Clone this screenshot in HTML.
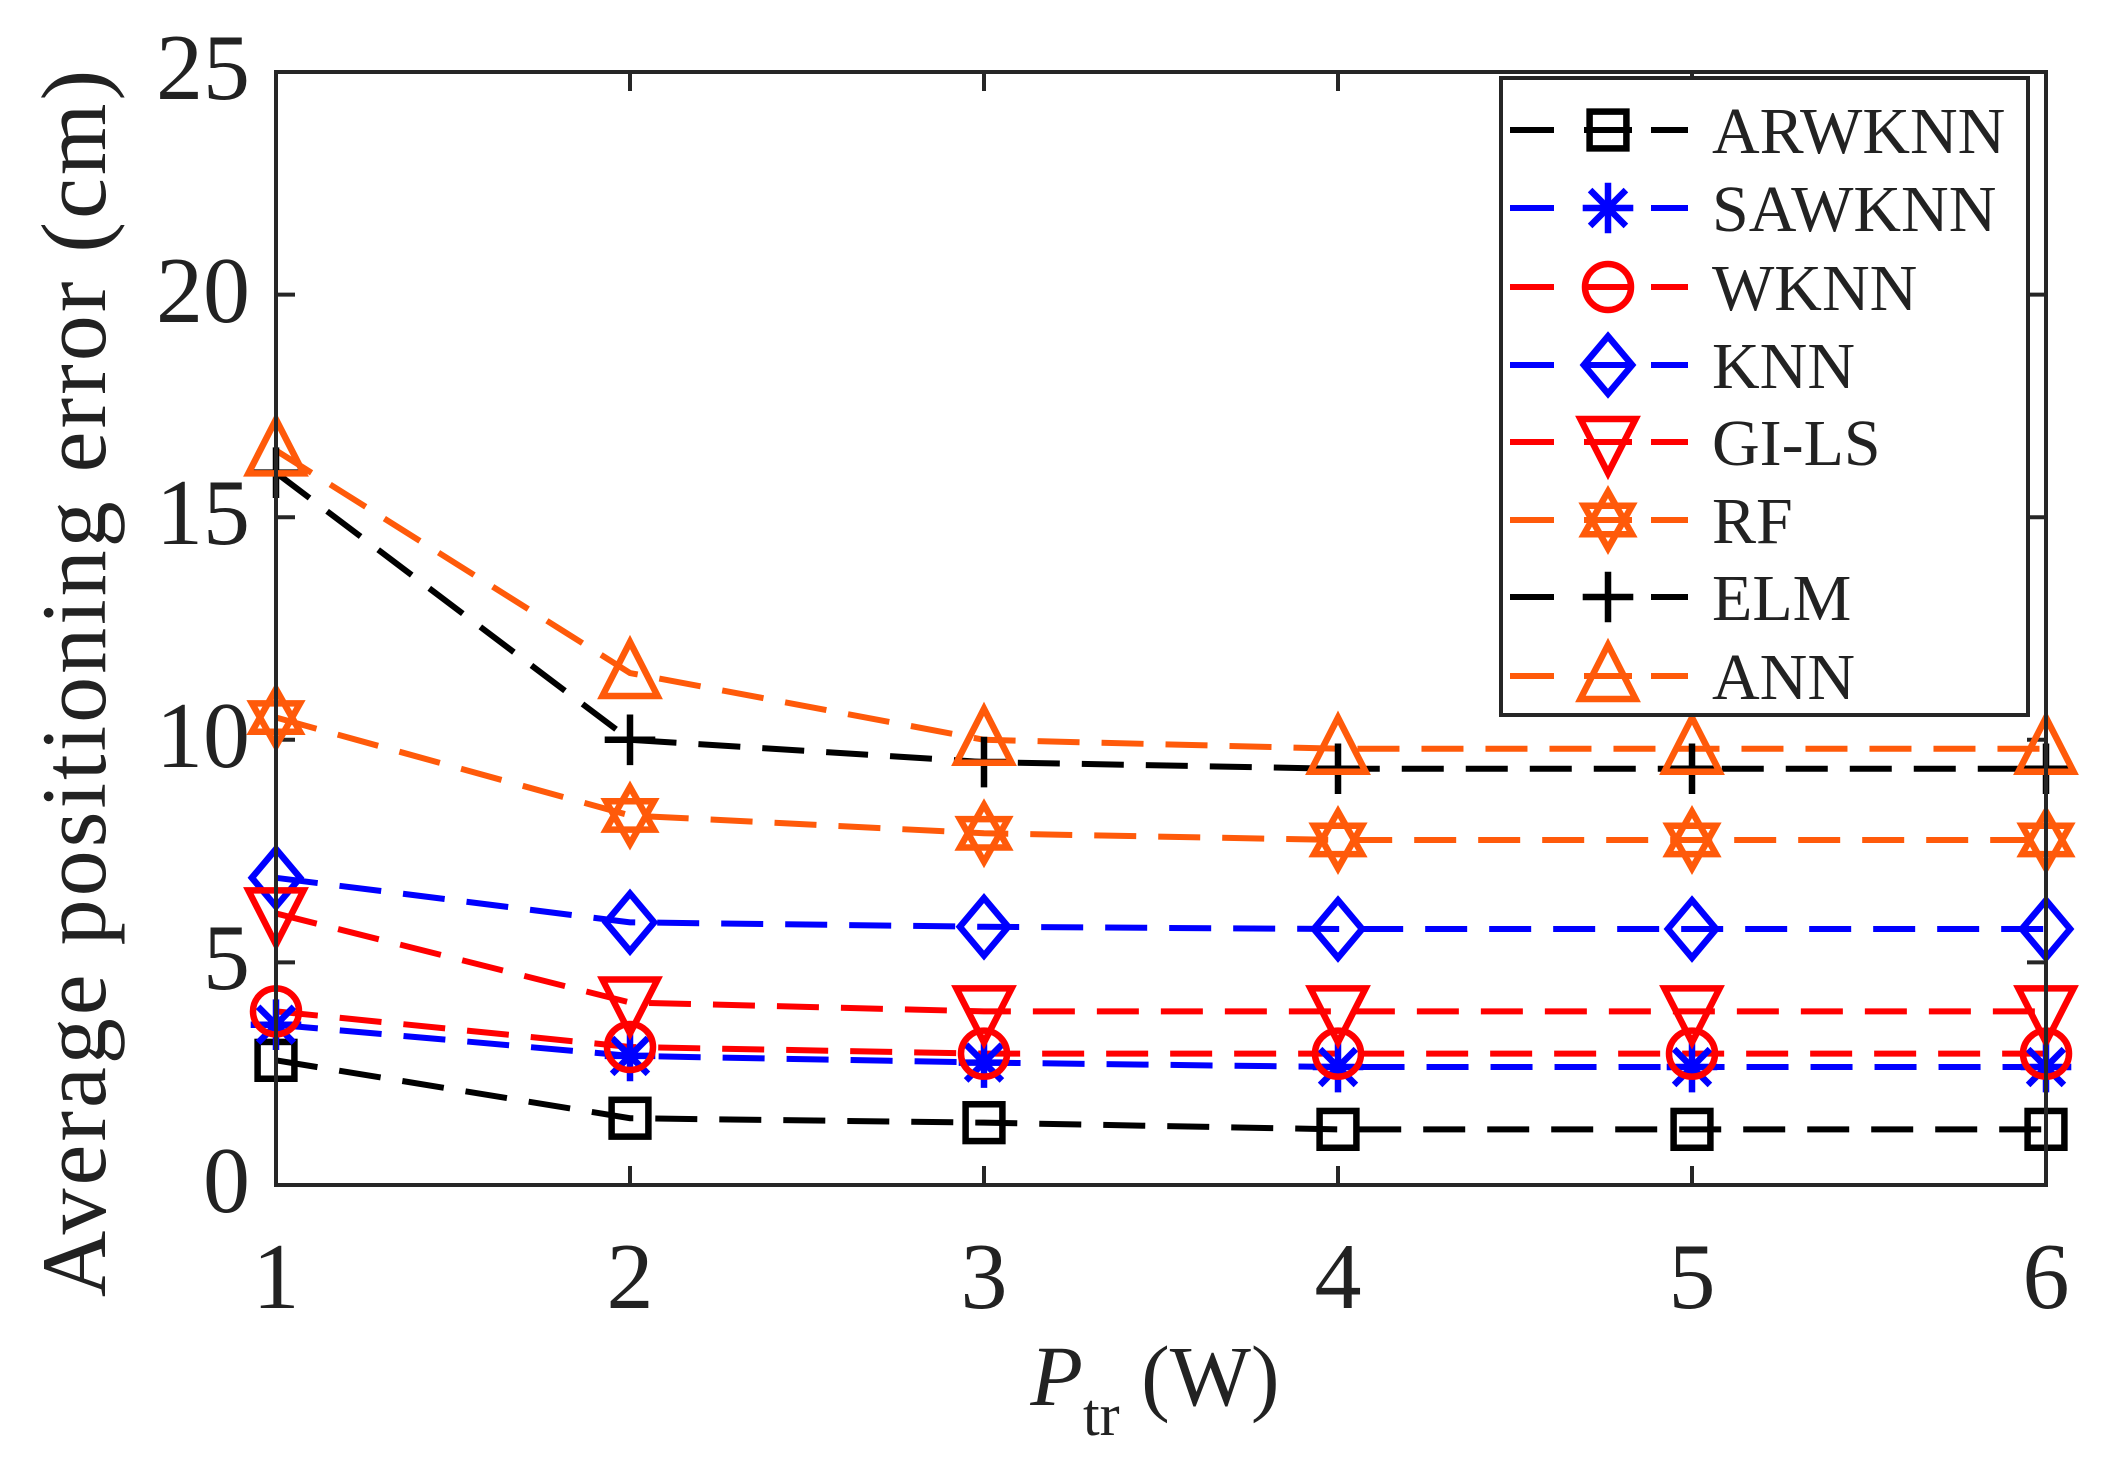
<!DOCTYPE html>
<html><head><meta charset="utf-8"><style>
html,body{margin:0;padding:0;background:#fff;}
svg{display:block;}
text{font-family:"Liberation Serif",serif;fill:#222;}
</style></head><body>
<svg id="s" width="2107" height="1468" viewBox="0 0 2107 1468" xmlns="http://www.w3.org/2000/svg">
<rect width="2107" height="1468" fill="#fff"/>
<g id="ticks" stroke="#262626" stroke-width="4"></g>
<g font-size="94" text-anchor="end">
<text x="250" y="1212">0</text>
<text x="250" y="989">5</text>
<text x="250" y="767">10</text>
<text x="250" y="544">15</text>
<text x="250" y="322">20</text>
<text x="250" y="99">25</text>
</g>
<g font-size="94" text-anchor="middle">
<text x="276" y="1308">1</text>
<text x="630" y="1308">2</text>
<text x="984" y="1308">3</text>
<text x="1338" y="1308">4</text>
<text x="1692" y="1308">5</text>
<text x="2046" y="1308">6</text>
</g>
<text x="1155" y="1405" font-size="86" text-anchor="middle"><tspan font-style="italic">P</tspan><tspan font-size="60" dy="30">tr</tspan><tspan dy="-30"> (W)</tspan></text>
<text transform="translate(105,682) rotate(-90)" font-size="92" text-anchor="middle" letter-spacing="3">Average  positioning  error  (cm)</text>
<g id="series"></g>
<rect x="276" y="72" width="1770" height="1113" fill="none" stroke="#262626" stroke-width="4"/>
<g transform="translate(-11,0)">
<rect x="1512" y="78" width="527" height="637" fill="#fff" stroke="#262626" stroke-width="4"/>
<g id="leg"></g>
<g font-size="66" fill="#111">
<text x="1723" y="153">ARWKNN</text>
<text x="1723" y="231">SAWKNN</text>
<text x="1723" y="310">WKNN</text>
<text x="1723" y="388">KNN</text>
<text x="1723" y="465">GI-LS</text>
<text x="1723" y="543">RF</text>
<text x="1723" y="620">ELM</text>
<text x="1723" y="699">ANN</text>
</g>
</g>
</svg>
<script>
const NS="http://www.w3.org/2000/svg";
const X=i=>276+354*i, Y=v=>1185-44.52*v;
const O="#ff5a0a",B="#0000ff",R="#ff0000",K="#000";
const S=[
 ["sq",K,[2.8,1.5,1.4,1.25,1.25,1.25]],
 ["ast",B,[3.6,2.9,2.75,2.65,2.65,2.65]],
 ["circ",R,[3.9,3.1,2.95,2.95,2.95,2.95]],
 ["dia",B,[6.9,5.9,5.8,5.75,5.75,5.75]],
 ["tdn",R,[6.1,4.1,3.9,3.9,3.9,3.9]],
 ["hex",O,[10.5,8.3,7.9,7.75,7.75,7.75]],
 ["plus",K,[16.0,10.0,9.5,9.35,9.35,9.35]],
 ["tup",O,[16.5,11.5,10.0,9.8,9.8,9.8]]
];
function el(t,a,p){const e=document.createElementNS(NS,t);for(const k in a)e.setAttribute(k,a[k]);p.appendChild(e);return e;}
function marker(type,c,x,y,p){
 const g=el("g",{stroke:c,"stroke-width":6.5,fill:"none"},p);
 const r=23;
 if(type=="sq")el("rect",{x:x-r*0.8,y:y-r*0.8,width:r*1.6,height:r*1.6},g);
 if(type=="circ")el("circle",{cx:x,cy:y,r:r},g);
 if(type=="dia")el("polygon",{points:`${x},${y-r*1.25} ${x+r*1.05},${y} ${x},${y+r*1.25} ${x-r*1.05},${y}`},g);
 if(type=="tdn")el("polygon",{points:`${x-r*1.2},${y-r*1.0} ${x+r*1.2},${y-r*1.0} ${x},${y+r*1.35}`},g);
 if(type=="tup")el("polygon",{points:`${x-r*1.2},${y+r*1.0} ${x+r*1.2},${y+r*1.0} ${x},${y-r*1.35}`},g);
 if(type=="plus"){el("line",{x1:x-r*1.1,y1:y,x2:x+r*1.1,y2:y},g);el("line",{x1:x,y1:y-r*1.1,x2:x,y2:y+r*1.1},g);}
 if(type=="ast"){for(let a=0;a<4;a++){const t=a*Math.PI/4;el("line",{x1:x-r*1.1*Math.cos(t),y1:y-r*1.1*Math.sin(t),x2:x+r*1.1*Math.cos(t),y2:y+r*1.1*Math.sin(t)},g);}}
 if(type=="hex"){const s=r*0.95;el("polygon",{points:`${x},${y-s*1.3} ${x+s*1.1},${y+s*0.65} ${x-s*1.1},${y+s*0.65}`},g);el("polygon",{points:`${x},${y+s*1.3} ${x+s*1.1},${y-s*0.65} ${x-s*1.1},${y-s*0.65}`},g);}
}
const sg=document.getElementById("series");
S.forEach(([m,c,d])=>{
 el("polyline",{points:d.map((v,i)=>X(i)+","+Y(v)).join(" "),fill:"none",stroke:c,"stroke-width":6,"stroke-dasharray":"42,22"},sg);
});
S.forEach(([m,c,d])=>d.forEach((v,i)=>marker(m,c,X(i),Y(v),sg)));
const tg=document.getElementById("ticks");
for(let i=0;i<6;i++){el("line",{x1:X(i),y1:1185,x2:X(i),y2:1166},tg);el("line",{x1:X(i),y1:72,x2:X(i),y2:91},tg);}
for(let v=0;v<=25;v+=5){el("line",{x1:276,y1:Y(v),x2:295,y2:Y(v)},tg);el("line",{x1:2046,y1:Y(v),x2:2027,y2:Y(v)},tg);}
const lg=document.getElementById("leg");
const ly=[130,208,287,365,442,520,597,676];
S.forEach(([m,c],k)=>{
 el("line",{x1:1521,y1:ly[k],x2:1565,y2:ly[k],stroke:c,"stroke-width":6},lg);
 el("line",{x1:1662,y1:ly[k],x2:1699,y2:ly[k],stroke:c,"stroke-width":6},lg);
 el("line",{x1:1595,y1:ly[k],x2:1643,y2:ly[k],stroke:c,"stroke-width":6},lg);
 marker(m,c,1619,ly[k],lg);
});
</script>
</body></html>
